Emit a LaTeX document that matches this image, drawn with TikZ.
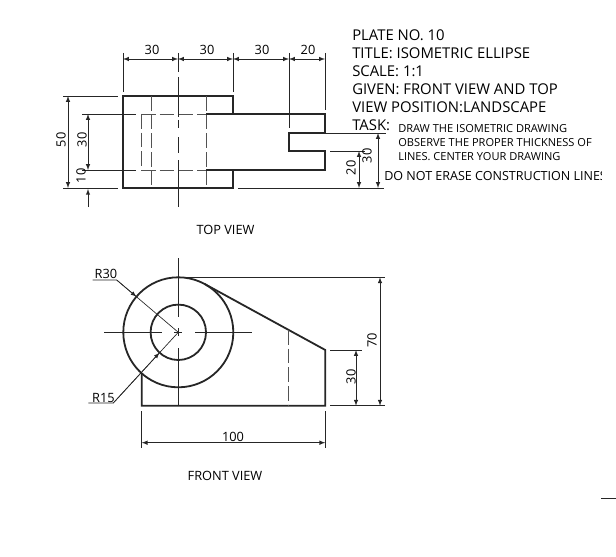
\documentclass[tikz,border=0pt]{standalone}
\usepackage{fontspec}
\setmainfont{Open Sans}
\usepackage{tikz}
\usetikzlibrary{arrows}
\definecolor{inkline}{gray}{0.15}
\tikzset{
	outline/.style={line width=1.35pt,color=inkline},
	thinline/.style={line width=0.5pt,color=inkline},
	dimline/.style={line width=0.55pt,color=inkline,<->,>=latex},
	hidden/.style={line width=0.45pt,color=inkline!80,dash pattern=on 11pt off 3pt},
	centre/.style={line width=0.75pt,color=inkline},
	txt/.style={inner sep=0pt,anchor=west,font=\fontsize{11.15pt}{13pt}\selectfont},
	small/.style={inner sep=0pt,anchor=west,font=\fontsize{8.3pt}{10pt}\selectfont},
	dimtxt/.style={inner sep=0pt,font=\fontsize{9.6pt}{11pt}\selectfont},
}
\begin{document}
\begin{tikzpicture}[x=0.75pt,y=-0.75pt]
	\useasboundingbox (0,0) rectangle (616,556);
	% title block
	\node[txt] (plate) at (352,35) {PLATE NO. 10};
	\node[txt] (title) at (352,53) {TITLE: ISOMETRIC ELLIPSE};
	\node[txt] (scale) at (352,71) {SCALE: 1:1};
	\node[txt] (given) at (352,89) {GIVEN: FRONT VIEW AND TOP};
	\node[txt] (viewpos) at (352,107) {VIEW POSITION:LANDSCAPE};
	\node[txt] (task) at (352,125) {TASK:};
	\node[small] (task1) at (398,128.5) {DRAW THE ISOMETRIC DRAWING};
	\node[small] (task2) at (398,142.5) {OBSERVE THE PROPER THICKNESS OF};
	\node[small] (task3) at (398,156.5) {LINES. CENTER YOUR DRAWING};
	\begin{scope}
		\clip (380,165) rectangle (601,187);
		\node[small,font=\fontsize{9.4pt}{11pt}\selectfont] (task4) at (384,176.5) {DO NOT ERASE CONSTRUCTION LINES};
	\end{scope}

	% top view
	\draw[outline] (206,114) -- (233,114) -- (233,96) -- (123,96) -- (123,188) -- (233,188) -- (233,170) -- (206,170);
	\draw[outline] (233,114) -- (325,114) -- (325,133) -- (289,133) -- (289,151) -- (325,151) -- (325,170) -- (233,170);
	\draw[hidden] (151,96) -- (151,188);
	\draw[hidden] (206,96) -- (206,188);
	\draw[hidden] (141,114) -- (141,170);
	\draw[hidden] (141,114) -- (206,114);
	\draw[hidden] (141,170) -- (206,170);
	\draw[centre] (178,53) -- (178,72);
	\draw[centre] (178,77) -- (178,117);
	\draw[centre] (178,120) -- (178,128);
	\draw[centre] (178,137) -- (178,153);
	\draw[centre] (178,160) -- (178,207);

	\draw[thinline] (123,53) -- (123,92);
	\draw[thinline] (233,53) -- (233,92);
	\draw[thinline] (289,53) -- (289,128);
	\draw[thinline] (325,53) -- (325,110);
	\draw[dimline] (123,59) -- (178,59);
	\draw[dimline] (178,59) -- (233,59);
	\draw[dimline] (233,59) -- (289,59);
	\draw[dimline] (289,59) -- (325,59);
	\node[dimtxt] (topa) at (152,50) {30};
	\node[dimtxt] (topb) at (207,50) {30};
	\node[dimtxt] (topc) at (262,50) {30};
	\node[dimtxt] (topd) at (308,50) {20};

	\draw[thinline] (63,96) -- (118,96);
	\draw[thinline] (63,188) -- (118,188);
	\draw[thinline] (82,114) -- (136,114);
	\draw[thinline] (82,170) -- (136,170);
	\draw[dimline] (68,96) -- (68,188);
	\draw[dimline] (88,114) -- (88,170);
	\draw[thinline,->,>=latex] (88,207) -- (88,189);
	\node[dimtxt,rotate=90] (lefta) at (61,140) {50};
	\node[dimtxt,rotate=90] (leftb) at (82,140) {30};
	\node[dimtxt,rotate=90] (leftc) at (81,176) {10};

	\draw[centre] (325,133) -- (386,133);
	\draw[thinline] (330,151) -- (365,151);
	\draw[thinline] (238,188) -- (384,188);
	\draw[dimline] (359,151) -- (359,188);
	\draw[dimline] (378,133) -- (378,188);
	\node[dimtxt,rotate=90] (righta) at (351,168) {20};
	\node[dimtxt,rotate=90] (rightb) at (367,156) {30};
	\node[dimtxt] (topview) at (225.5,229.7) {TOP VIEW};

	% front view
	\draw[outline] (178.3,332.3) circle (55);
	\draw[outline] (178.3,332.3) circle (27.7);
	\draw[outline] (141.7,373.4) -- (141.7,405.7) -- (325.3,405.7) -- (325.3,350) -- (204.7,284);
	\draw[centre] (178.3,277.3) -- (385,277.3);
	\draw[hidden] (288.3,330) -- (288.3,405.7);

	\draw[thinline] (104,332.3) -- (162,332.3);
	\draw[thinline] (174,332.3) -- (182,332.3);
	\draw[thinline] (195,332.3) -- (252,332.3);
	\draw[thinline] (178.3,258) -- (178.3,317);
	\draw[thinline] (178.3,328) -- (178.3,336);
	\draw[thinline] (178.3,348) -- (178.3,405.7);

	\draw[thinline] (92.7,280) -- (116.7,280) -- (178.3,332.3);
	\draw[thinline] (88.3,403) -- (113.3,403) -- (178.3,332.3);
	\draw[thinline,->,>=latex] (116.7,280) -- (136.4,296.7);
	\draw[thinline,->,>=latex] (113.3,403) -- (159.5,352.7);
	\node[dimtxt] (rthirty) at (106,273.5) {R30};
	\node[dimtxt] (rfifteen) at (103.5,397.5) {R15};

	\draw[thinline] (141.7,411) -- (141.7,448);
	\draw[thinline] (325.3,411) -- (325.3,448);
	\draw[dimline] (141.7,442.7) -- (325.3,442.7);
	\node[dimtxt] (hundred) at (233,436.5) {100};
	\draw[thinline] (330,350) -- (361.7,350);
	\draw[thinline] (330,405.7) -- (385,405.7);
	\draw[dimline] (356,350) -- (356,405.7);
	\draw[dimline] (380,277.3) -- (380,405.7);
	\node[dimtxt,rotate=90] (frontb) at (351,376.7) {30};
	\node[dimtxt,rotate=90] (fronta) at (372,340) {70};
	\node[dimtxt] (frontview) at (225,475.7) {FRONT VIEW};

	\draw[centre] (601,498) -- (616,498);
\end{tikzpicture}
\end{document}
